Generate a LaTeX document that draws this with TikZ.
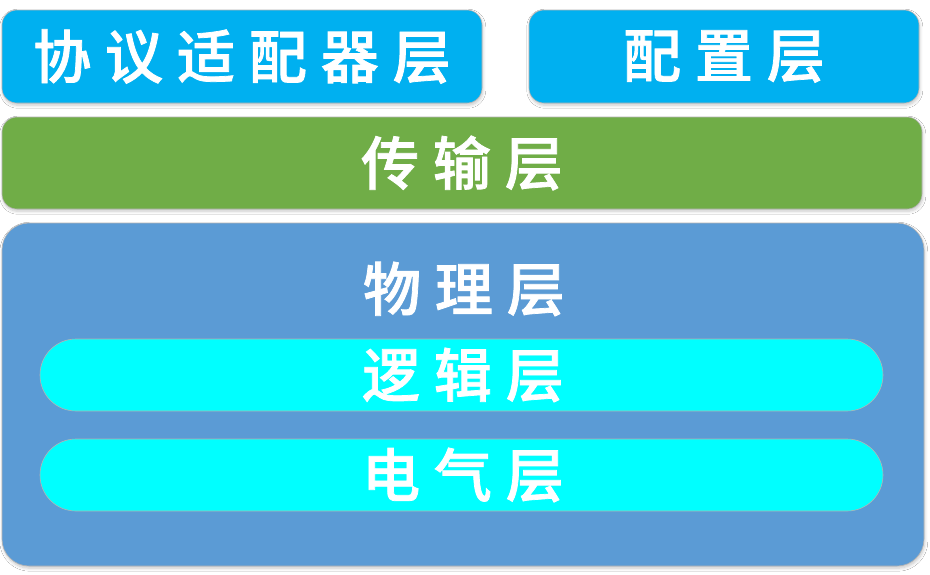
\documentclass[tikz,border=0pt]{standalone}
\usepackage{fontspec}
\newfontfamily\cjk{Noto Sans CJK SC Medium}[LetterSpace=24, FakeBold=1.3]
\usetikzlibrary{shadows.blur}
\definecolor{topblue}{HTML}{00B0F0}
\definecolor{transgreen}{HTML}{70AD47}
\definecolor{phyblue}{HTML}{5B9BD5}
\definecolor{capcyan}{HTML}{00FFFF}
\definecolor{edgegray}{HTML}{B4B4B4}
\tikzset{
  txt/.style={text=white, font=\cjk\fontsize{58}{60}\selectfont},
  layer/.style={draw=edgegray, line width=0.6pt, rounded corners=15pt, inner sep=0pt, txt,
    blur shadow={shadow xshift=0.8pt, shadow yshift=-2.2pt, shadow blur steps=6, shadow blur radius=3pt, shadow opacity=22}},
  capsule/.style={draw=edgegray, line width=0.6pt, rounded corners=35.9pt, inner sep=0pt,
    fill=capcyan, minimum width=843pt, minimum height=72pt, txt},
  lbl/.style={inner sep=0pt, txt}
}
\begin{document}
\begin{tikzpicture}[x=1pt,y=-1pt]
\useasboundingbox[fill=white] (0,0) rectangle (930,574);
\node[layer, fill=topblue, minimum width=480pt, minimum height=93pt] (adapter) at (242,56.5) {协议适配器层};
\node[layer, fill=topblue, minimum width=390pt, minimum height=93pt] (config) at (724,56.5) {配置层};
\node[layer, fill=transgreen, minimum width=920pt, minimum height=92pt] (transport) at (462,163) {传输层};
\node[layer, fill=phyblue, rounded corners=27pt, minimum width=922pt, minimum height=343pt] (physical) at (463,394.5) {};
\node[lbl] (phylabel) at (464,289) {物理层};
\node[capsule] (logic) at (461.5,375) {\hspace*{3pt}逻辑层};
\node[capsule] (electric) at (461.5,475) {\hspace*{3pt}电气层};
\end{tikzpicture}
\end{document}
